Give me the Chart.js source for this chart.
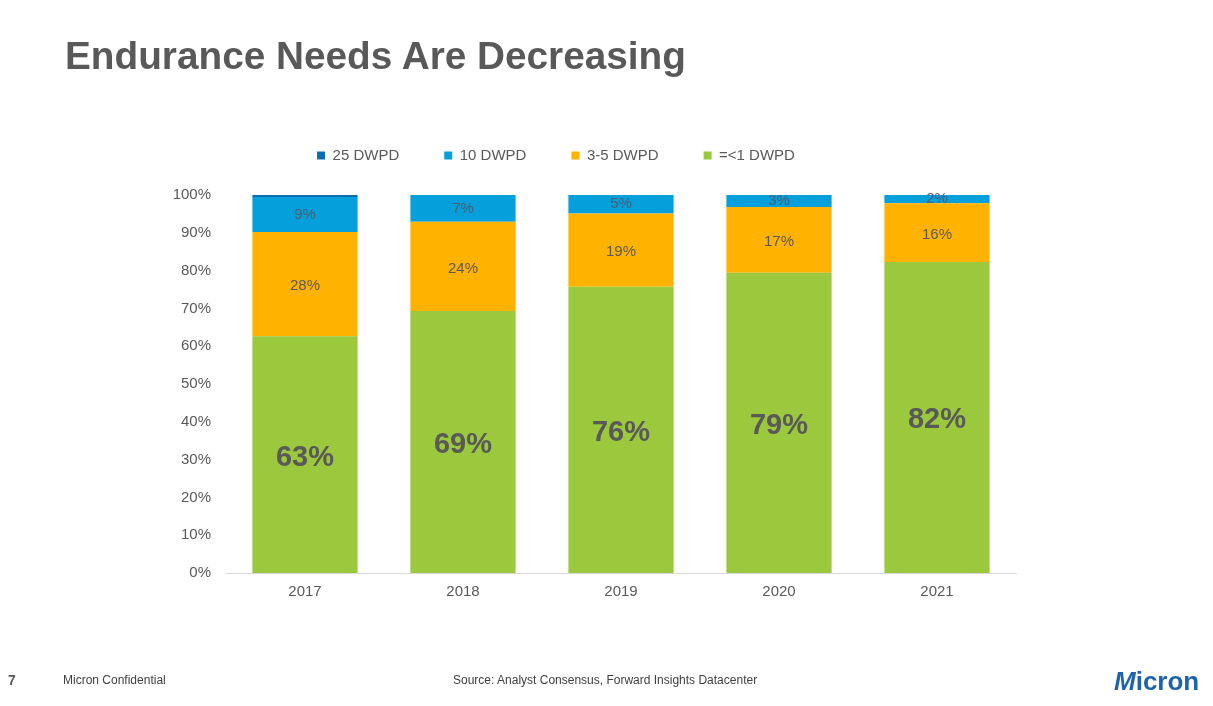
<!DOCTYPE html>
<html>
<head>
<meta charset="utf-8">
<script src="https://cdn.jsdelivr.net/npm/chart.js@4.4.1/dist/chart.umd.min.js"></script>
<style>
  html, body { margin: 0; padding: 0; background: #fff; }
  body { width: 1213px; height: 706px; position: relative; overflow: hidden; font-family: "Liberation Sans", Arial, sans-serif; color: #595959; }
  #chart { position: absolute; left: 0; top: 0; }
  .txt { position: absolute; white-space: nowrap; }
  #title { left: 65px; top: 37px; font-size: 38px; line-height: 38px; font-weight: bold; color: #595959; transform-origin: 0 0; }
  #pg { left: 8px; top: 672px; font-size: 14px; font-weight: bold; color: #595959; }
  #conf { left: 63px; top: 673px; font-size: 12px; color: #404040; }
  #src { left: 453px; top: 673px; font-size: 12px; color: #404040; }
  #logo { left: 1114px; top: 668px; font-size: 26px; line-height: 26px; font-weight: bold; color: #1f63b0; }
  #logo i { font-style: italic; }
</style>
</head>
<body>
<canvas id="chart" width="1213" height="706"></canvas>
<div class="txt" id="title"><span id="titleSpan">Endurance Needs Are Decreasing</span></div>
<div class="txt" id="pg">7</div>
<div class="txt" id="conf">Micron Confidential</div>
<div class="txt" id="src">Source: Analyst Consensus, Forward Insights Datacenter</div>
<div class="txt" id="logo"><i>M</i>icron</div>
<script>
// data (percent of each year)
const years = ['2017', '2018', '2019', '2020', '2021'];
const dwpd1 = [62.6, 69.3, 75.7, 79.4, 82.3];   // =<1 DWPD
const dwpd35 = [27.6, 23.6, 19.4, 17.4, 15.5];  // 3-5 DWPD
const dwpd10 = [9.3, 7.1, 4.9, 3.2, 2.2];       // 10 DWPD
const dwpd25 = [0.5, 0, 0, 0, 0];               // 25 DWPD
const yTicks = [0, 10, 20, 30, 40, 50, 60, 70, 80, 90, 100];

const GREY = '#595959';
Chart.defaults.font.family = '"Liberation Sans", Arial, sans-serif';
Chart.defaults.color = GREY;

// title: fit the slide's width
const ts = document.getElementById('titleSpan');
document.getElementById('title').style.transform = 'scaleX(' + (621 / ts.offsetWidth) + ')';

// labels in the middle of each segment
const segLabels = {
  id: 'segLabels',
  afterDatasetsDraw(chart){
    const ctx = chart.ctx;
    chart.data.datasets.forEach((ds, i) => {
      if(ds.noLabel) return;
      const meta = chart.getDatasetMeta(i);
      meta.data.forEach((bar, j) => {
        const v = ds.data[j];
        if(!v) return;
        ctx.save();
        ctx.font = ds.labelFont;
        ctx.fillStyle = ds.labelColor;
        ctx.textAlign = 'center';
        ctx.textBaseline = 'middle';
        ctx.fillText(Math.round(v) + '%', bar.x, (bar.y + bar.base) / 2 + ds.labelShift);
        ctx.restore();
      });
    });
  }
};

// extra gap under the legend
const legendGap = {
  id: 'legendGap',
  afterInit(chart){
    const lg = chart.legend;
    if(!lg) return;
    const fit = lg.fit.bind(lg);
    lg.fit = function(){ fit(); this.height += 22; };
  }
};

new Chart(document.getElementById('chart'), {
  type: 'bar',
  data: {
    labels: years,
    datasets: [
      { label: '=<1 DWPD', data: dwpd1, backgroundColor: '#9bc83c',
        labelFont: 'bold 29px "Liberation Sans", Arial', labelColor: GREY, labelShift: 3 },
      { label: '3-5 DWPD', data: dwpd35, backgroundColor: '#ffb300',
        labelFont: '15px "Liberation Sans", Arial', labelColor: GREY, labelShift: 2 },
      { label: '10 DWPD', data: dwpd10, backgroundColor: '#05a0dc',
        labelFont: '15px "Liberation Sans", Arial', labelColor: '#4a5d6e', labelShift: 0 },
      { label: '25 DWPD', data: dwpd25, backgroundColor: '#0f6cb2', noLabel: true }
    ]
  },
  options: {
    responsive: false,
    animation: false,
    datasets: { bar: { categoryPercentage: 1, barPercentage: 0.666, borderWidth: 0 } },
    layout: { padding: { left: 96, right: 197, top: 103, bottom: 93 } },
    plugins: {
      tooltip: { enabled: false },
      legend: {
        position: 'top',
        reverse: true,
        labels: { boxWidth: 8, boxHeight: 8, padding: 45, color: GREY, font: { size: 15 } }
      }
    },
    scales: {
      x: {
        stacked: true,
        grid: { display: false, drawTicks: false },
        border: { display: true, color: '#d9d9d9', width: 1 },
        ticks: { padding: 10, color: GREY, font: { size: 15 } },
        afterFit(s){ s.height = 40; }
      },
      y: {
        stacked: true,
        min: 0, max: 100,
        afterBuildTicks(s){ s.ticks = yTicks.map(v => ({ value: v })); },
        grid: { display: false, drawTicks: false },
        border: { display: false },
        ticks: { padding: 15, color: GREY, font: { size: 15 }, callback: v => v + '%' },
        afterFit(s){ s.width = 130; }
      }
    }
  },
  plugins: [segLabels, legendGap]
});
</script>
</body>
</html>
